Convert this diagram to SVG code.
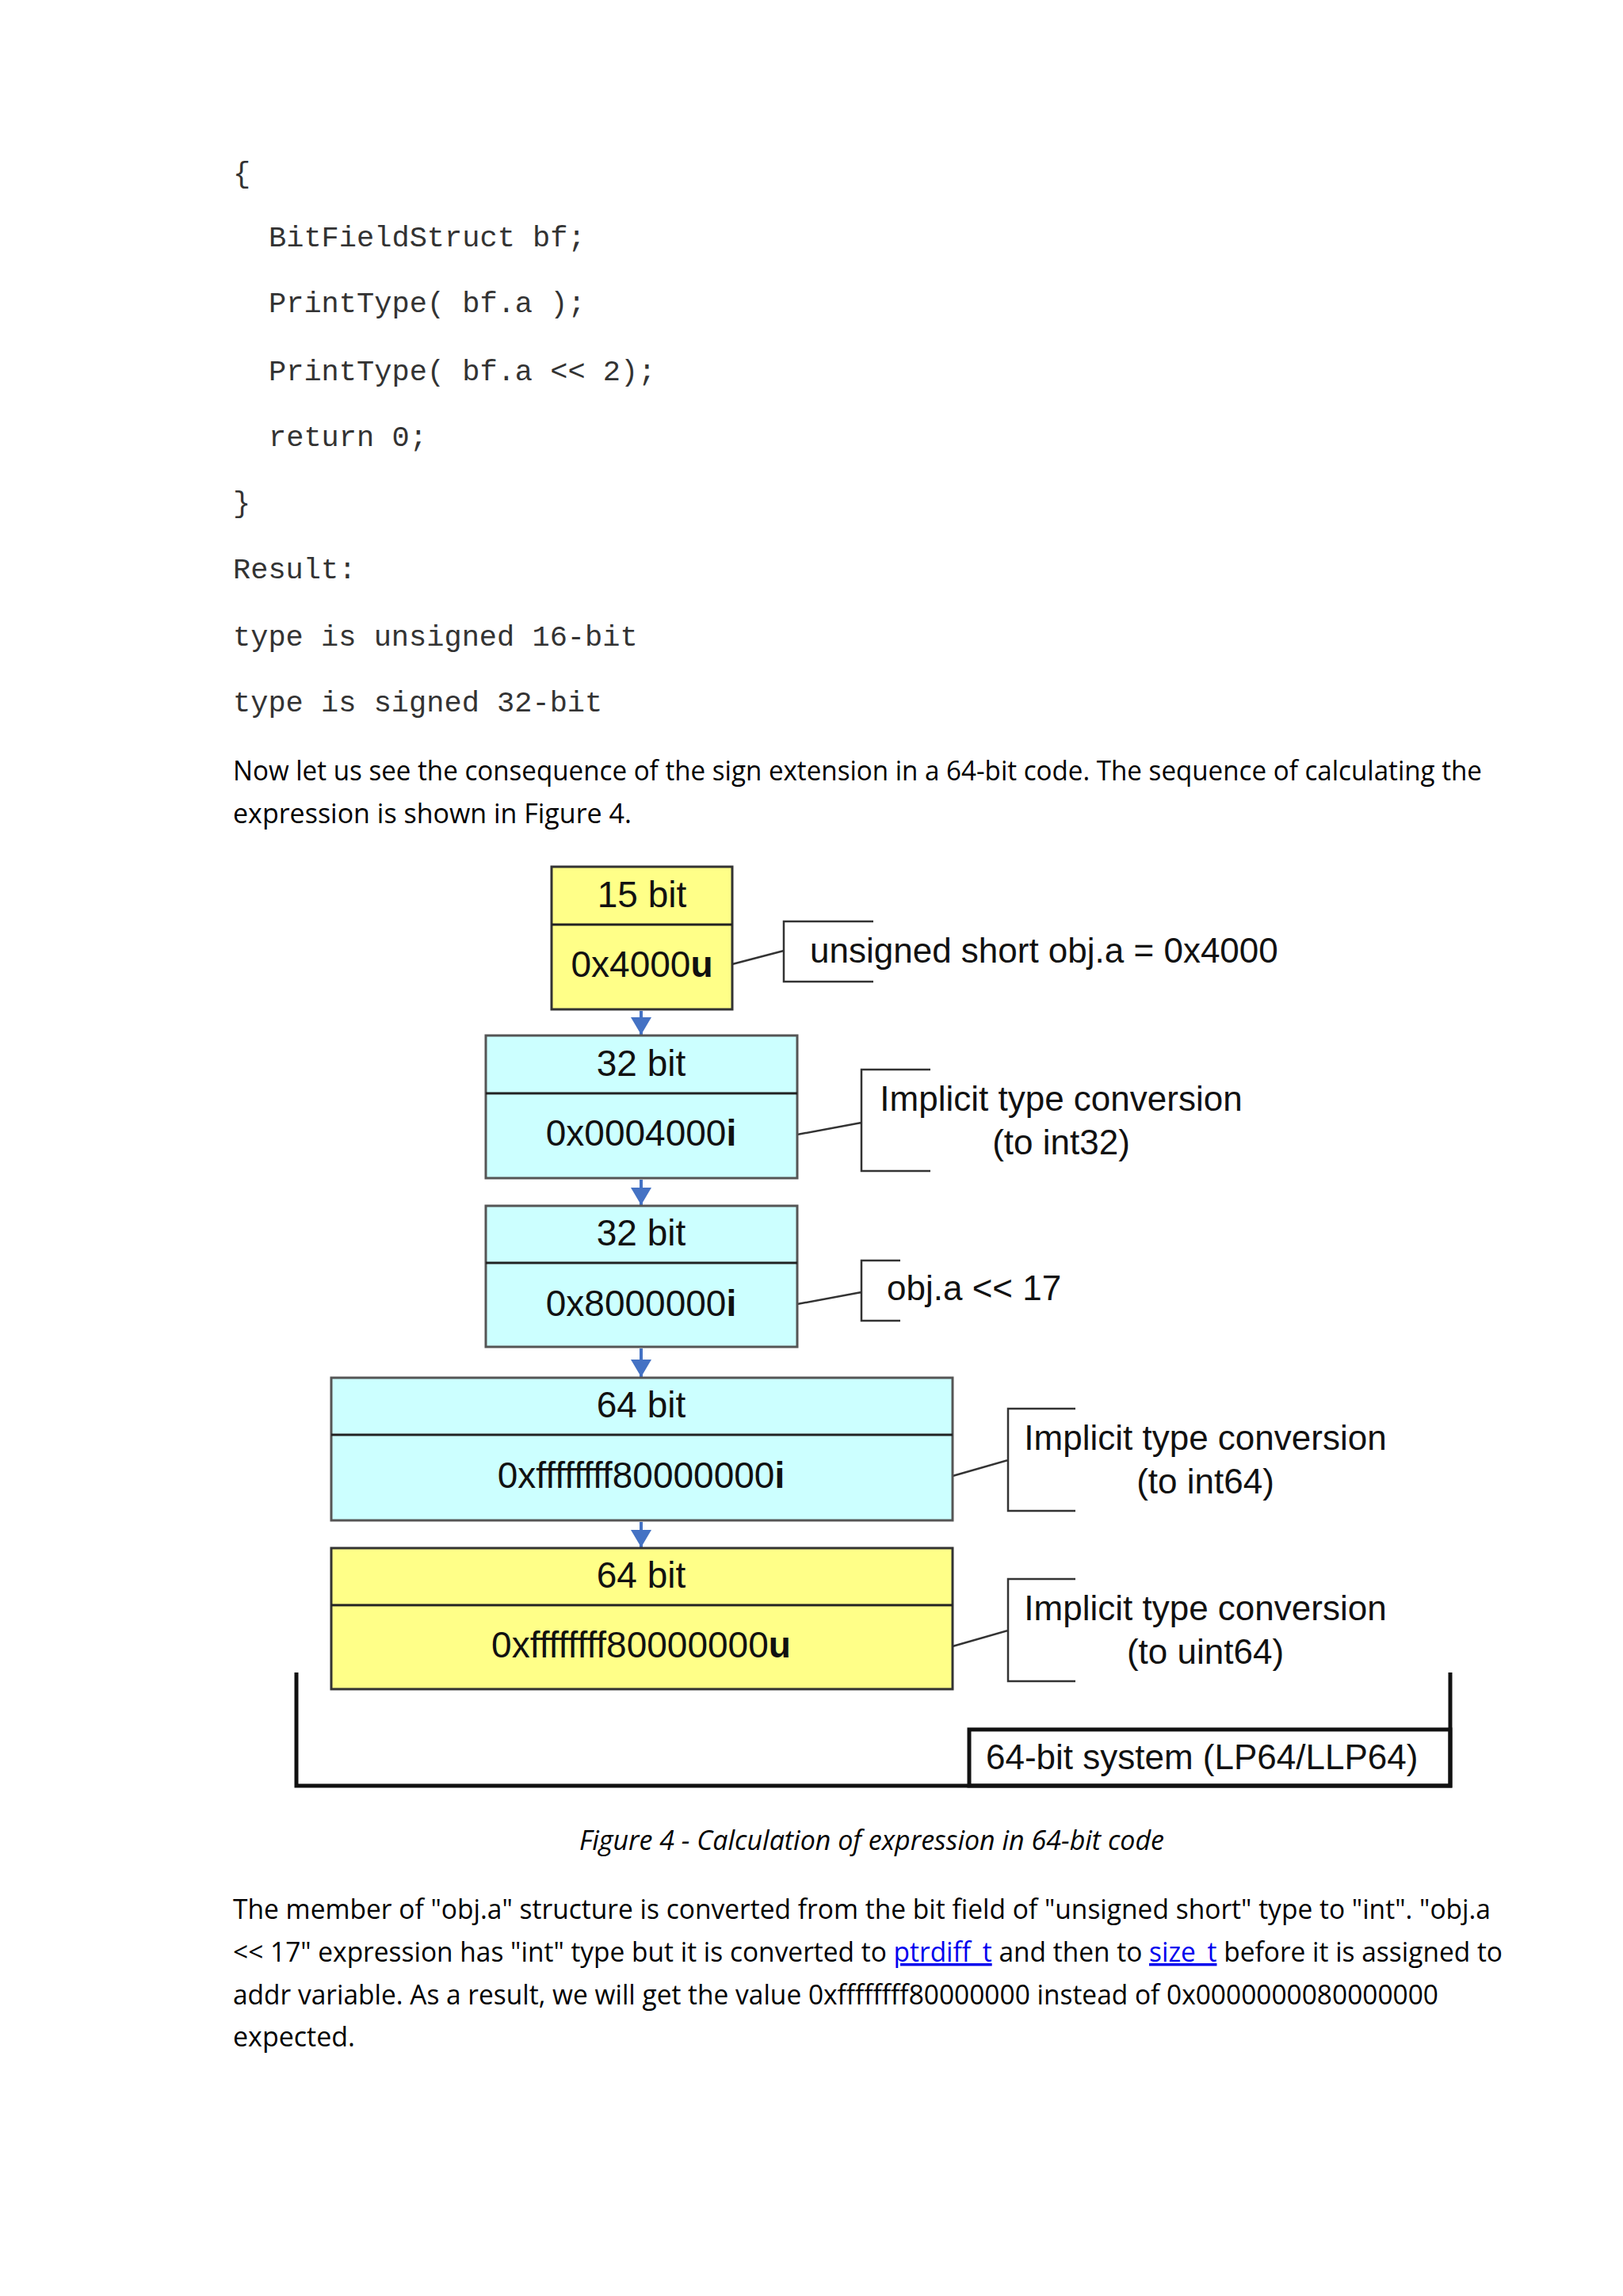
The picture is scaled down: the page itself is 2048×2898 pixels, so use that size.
<svg xmlns="http://www.w3.org/2000/svg" width="2048" height="2898" viewBox="0 0 2048 2898">
<style>
.code{font-family:"Liberation Mono",monospace;font-size:37px;fill:#333}
.p{font-family:"Open Sans","Liberation Sans",sans-serif;font-size:34px;fill:#000}
.d{font-family:"Liberation Sans",Arial,sans-serif;font-size:46px;fill:#111;text-anchor:middle}
.l{font-family:"Liberation Sans",Arial,sans-serif;font-size:44px;fill:#111}
.y{fill:#ffff88;stroke:#333;stroke-width:3}
.c{fill:#ccffff;stroke:#555;stroke-width:3}
.dv{stroke:#222;stroke-width:3}
.br{fill:none;stroke:#333;stroke-width:2.5}
.a{stroke:#4472c4;stroke-width:4;marker-end:url(#ah)}
.lk{fill:#0000ee;text-decoration:underline}
</style>
<defs><marker id="ah" markerWidth="22" markerHeight="26" refX="22" refY="13" orient="auto" markerUnits="userSpaceOnUse" viewBox="0 0 22 26"><path d="M0,0L22,13L0,26z" fill="#4472c4"/></marker></defs>
<rect width="2048" height="2898" fill="#fff"/>
<g id="code">
<text class="code" x="294" y="230">{</text>
<text class="code" x="339" y="311">BitFieldStruct bf;</text>
<text class="code" x="339" y="394">PrintType( bf.a );</text>
<text class="code" x="339" y="480">PrintType( bf.a &lt;&lt; 2);</text>
<text class="code" x="339" y="563">return 0;</text>
<text class="code" x="294" y="646">}</text>
<text class="code" x="294" y="730">Result:</text>
<text class="code" x="294" y="815">type is unsigned 16-bit</text>
<text class="code" x="294" y="898">type is signed 32-bit</text>
</g>
<g id="intro">
<text class="p" x="294" y="985" textLength="1576" lengthAdjust="spacingAndGlyphs">Now let us see the consequence of the sign extension in a 64-bit code. The sequence of calculating the</text>
<text class="p" x="294" y="1039">expression is shown in Figure 4.</text>
</g>
<g id="connectors">
<line class="a" x1="809" y1="1276" x2="809" y2="1306"/>
<line class="a" x1="809" y1="1489" x2="809" y2="1521"/>
<line class="a" x1="809" y1="1702" x2="809" y2="1738"/>
<line class="a" x1="809" y1="1921" x2="809" y2="1953"/>
<path class="br" d="M924,1217L989,1200M1102,1163H989V1239H1102"/>
<path class="br" d="M1006,1432L1087,1417M1174,1350H1087V1478H1174"/>
<path class="br" d="M1006,1646L1087,1631M1136,1591H1087V1667H1136"/>
<path class="br" d="M1202,1863L1272,1843M1357,1778H1272V1907H1357"/>
<path class="br" d="M1202,2078L1272,2058M1357,1993H1272V2122H1357"/>
</g>
<g id="n1"><rect class="y" x="696" y="1094" width="228" height="180"/><line class="dv" x1="696" y1="1167" x2="924" y2="1167"/>
<text class="d" x="810" y="1145">15 bit</text><text class="d" x="810" y="1233">0x4000<tspan font-weight="bold">u</tspan></text></g>
<g id="n2"><rect class="c" x="613" y="1307" width="393" height="180"/><line class="dv" x1="613" y1="1380" x2="1006" y2="1380"/>
<text class="d" x="809" y="1358">32 bit</text><text class="d" x="809" y="1446">0x0004000<tspan font-weight="bold">i</tspan></text></g>
<g id="n3"><rect class="c" x="613" y="1522" width="393" height="178"/><line class="dv" x1="613" y1="1594" x2="1006" y2="1594"/>
<text class="d" x="809" y="1572">32 bit</text><text class="d" x="809" y="1661">0x8000000<tspan font-weight="bold">i</tspan></text></g>
<g id="n4"><rect class="c" x="418" y="1739" width="784" height="180"/><line class="dv" x1="418" y1="1811" x2="1202" y2="1811"/>
<text class="d" x="809" y="1789">64 bit</text><text class="d" x="809" y="1878">0xffffffff80000000<tspan font-weight="bold">i</tspan></text></g>
<g id="n5"><rect class="y" x="418" y="1954" width="784" height="178"/><line class="dv" x1="418" y1="2026" x2="1202" y2="2026"/>
<text class="d" x="809" y="2004">64 bit</text><text class="d" x="809" y="2092">0xffffffff80000000<tspan font-weight="bold">u</tspan></text></g>
<g id="labels">
<text class="l" x="1022" y="1215">unsigned short obj.a = 0x4000</text>
<text class="l" x="1339" y="1402" text-anchor="middle">Implicit type conversion</text>
<text class="l" x="1339" y="1457" text-anchor="middle">(to int32)</text>
<text class="l" x="1119" y="1641">obj.a &lt;&lt; 17</text>
<text class="l" x="1521" y="1830" text-anchor="middle">Implicit type conversion</text>
<text class="l" x="1521" y="1885" text-anchor="middle">(to int64)</text>
<text class="l" x="1521" y="2045" text-anchor="middle">Implicit type conversion</text>
<text class="l" x="1521" y="2100" text-anchor="middle">(to uint64)</text>
</g>
<g id="system">
<path d="M374,2111V2254H1830V2111" fill="none" stroke="#111" stroke-width="5"/>
<rect x="1223" y="2183" width="607" height="71" fill="none" stroke="#111" stroke-width="5"/>
<text class="l" x="1244" y="2233">64-bit system (LP64/LLP64)</text>
</g>
<g id="caption"><text class="p" x="1100" y="2335" text-anchor="middle" font-style="italic">Figure 4 - Calculation of expression in 64-bit code</text></g>
<g id="outro">
<text class="p" x="294" y="2422" textLength="1587" lengthAdjust="spacingAndGlyphs">The member of "obj.a" structure is converted from the bit field of "unsigned short" type to "int". "obj.a</text>
<text class="p" x="294" y="2476" textLength="1602" lengthAdjust="spacingAndGlyphs">&lt;&lt; 17" expression has "int" type but it is converted to <tspan class="lk">ptrdiff_t</tspan> and then to <tspan class="lk">size_t</tspan> before it is assigned to</text>
<text class="p" x="294" y="2530" textLength="1521" lengthAdjust="spacingAndGlyphs">addr variable. As a result, we will get the value 0xffffffff80000000 instead of 0x0000000080000000</text>
<text class="p" x="294" y="2583">expected.</text>
</g>
</svg>
